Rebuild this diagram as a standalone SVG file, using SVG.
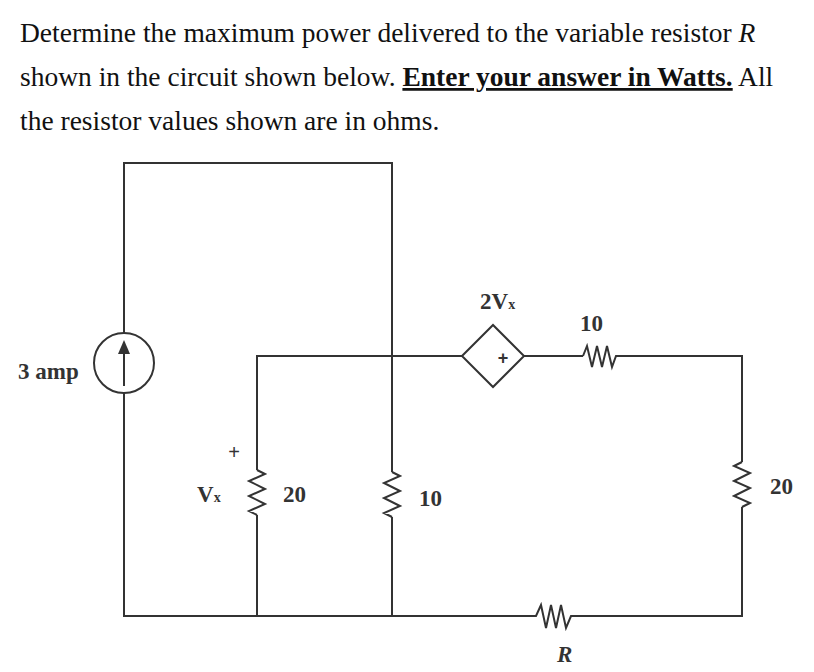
<svg xmlns="http://www.w3.org/2000/svg" width="814" height="672" viewBox="0 0 814 672">
<style>
.w{fill:none;stroke:#333;stroke-width:2}
.t{font-family:"Liberation Serif",serif;font-size:27.5px;fill:#111}
.l{font-family:"Liberation Serif",serif;font-size:23px;font-weight:bold;fill:#333}
</style>
<rect width="814" height="672" fill="#fff"/>
<text class="t" x="20" y="42">Determine the maximum power delivered to the variable resistor <tspan font-style="italic">R</tspan></text>
<text class="t" x="20" y="86">shown in the circuit shown below. <tspan font-weight="bold" text-decoration="underline">Enter your answer in Watts.</tspan> All</text>
<text class="t" x="20" y="130">the resistor values shown are in ohms.</text>
<g id="connectors">
<path class="w" d="M124,333V163H392V472M392,517V616"/>
<path class="w" d="M124,393V616H742V507M742,462V356H627"/>
<path class="w" d="M257,616V515M257,470V356H462"/>
<path class="w" d="M524,356H583"/>
</g>
<g id="src"><circle class="w" cx="124" cy="363" r="30"/><path class="w" d="M124,386V352"/><path d="M118,354L124,340L130,354Z" fill="#333"/><text class="l" x="18" y="379">3 amp</text></g>
<g id="dep"><path class="w" d="M462,356L493,325L524,356L493,387Z"/><text x="503" y="364" font-family="Liberation Sans,sans-serif" font-size="18" font-weight="bold" fill="#333" text-anchor="middle">+</text><text class="l" x="480" y="309">2V<tspan font-size="14">x</tspan></text></g>
<g id="r10a"><path class="w" d="M583,356L587,346L592,367L597,346L602,367L607,346L612,367L616,356H627"/><text class="l" x="580" y="331">10</text></g>
<g id="r20a"><path class="w" d="M257,470L265,474L249,481L265,489L249,496L265,504L249,511L257,515"/><text class="l" x="283" y="502">20</text><text class="l" x="197" y="502">V<tspan font-size="14">x</tspan></text><text x="234" y="459" font-family="Liberation Sans,sans-serif" font-size="20" fill="#333" text-anchor="middle">+</text></g>
<g id="r10b"><path class="w" d="M392,472L400,476L384,483L400,491L384,498L400,506L384,513L392,517"/><text class="l" x="419" y="506">10</text></g>
<g id="r20b"><path class="w" d="M742,462L734,466L750,473L734,481L750,488L734,496L750,503L742,507"/><text class="l" x="770" y="494">20</text></g>
<g id="R"><rect x="536" y="605" width="50" height="22" fill="#fff"/><path class="w" d="M530,616H536L541,605L546,628L551,605L556,628L561,605L566,628L571,616H586"/><text class="l" x="557" y="662" font-style="italic">R</text></g>
</svg>
